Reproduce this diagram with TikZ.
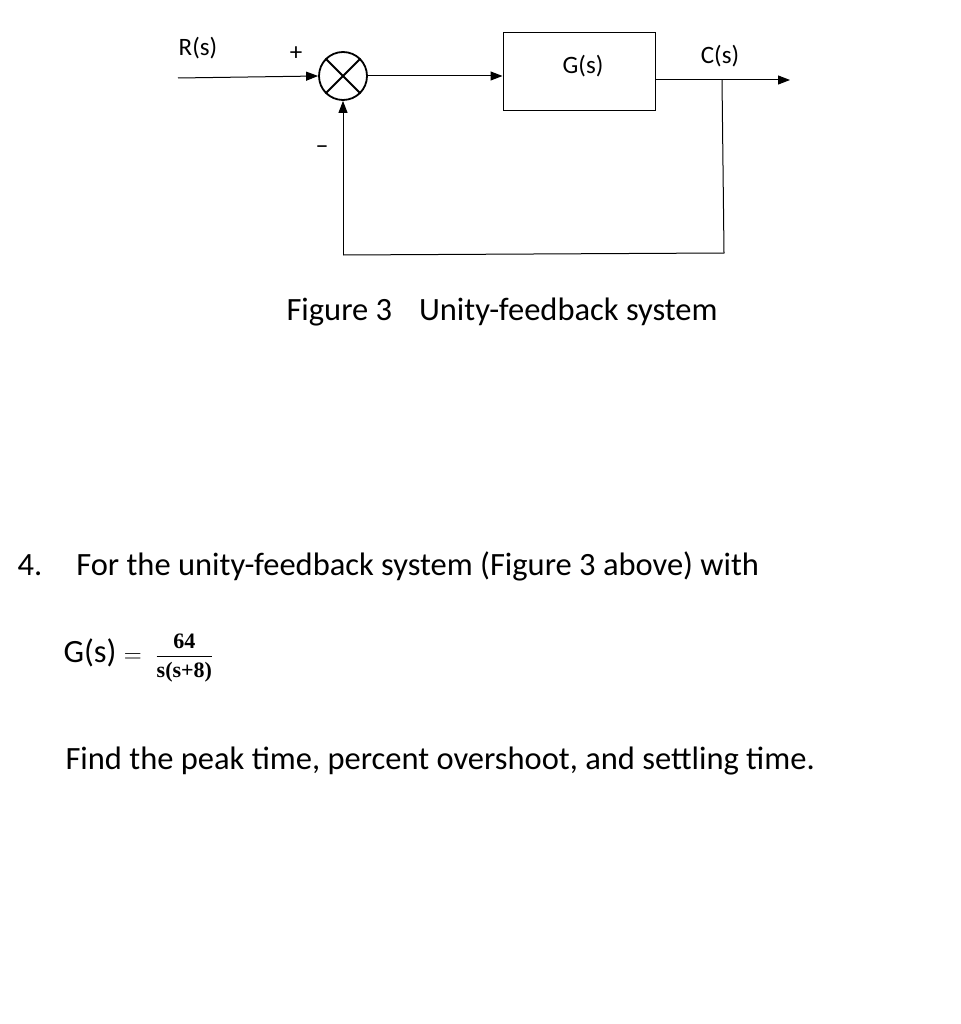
\documentclass[tikz,border=0pt]{standalone}
\usepackage{fontspec}
\setmainfont{Carlito}
\newfontfamily\serifx{Liberation Serif}
\usetikzlibrary{arrows.meta}
\begin{document}
\begin{tikzpicture}[x=1pt,y=-1pt,
  ln/.style={line width=1pt},
  ar/.style={ln,-{Triangle[length=12pt,width=9pt]}},
  lab/.style={font=\fontsize{25}{28}\selectfont},
  txt/.style={font=\fontsize{32.5}{36}\selectfont,anchor=west}]
\useasboundingbox[fill=white] (0,0) rectangle (960,1024);
\node[circle,draw,line width=1.8pt,minimum size=48pt,inner sep=0] (sum) at (343,76) {};
\draw[line width=1.8pt] (sum.north west) -- (sum.south east) (sum.north east) -- (sum.south west);
\coordinate (r) at (178,78);
\node[draw,ln,minimum width=152pt,minimum height=78pt,inner sep=0] (g) at (579,72) {};
\node[lab] (gl) at (583,66) {G(s)};
\node[lab] (rl) at (198,48) {R(s)};
\node[lab] (cl) at (720,56) {C(s)};
\node[lab] (pl) at (296,54) {+};
\node[lab] (ml) at (322,150) {\textminus};
\coordinate (out) at (790,80);
\coordinate (tap) at (722,80);
\coordinate (b1) at (724,253);
\coordinate (b2) at (343,255);
\draw[ar] (r) -- (sum.west);
\draw[ar] (sum.east) -- (g.west |- sum.east);
\draw[ar] (g.east |- out) -- (out);
\draw[ln] (tap) -- (b1) -- (b2);
\draw[ar] (b2) -- (sum.south);
\node[txt] (cap) at (283,312) {Figure 3\hspace{0.6em} Unity-feedback system};
\node[txt] (q) at (14,566) {4.\hspace{1.05em}For the unity-feedback system (Figure 3 above) with};
\node[txt] (gs) at (60,658) {G(s) $=\;\frac{\hbox{\serifx\bfseries\fontsize{22}{26}\selectfont\rule[-7pt]{0pt}{0pt}64}}{\hbox{\serifx\bfseries\fontsize{22}{26}\selectfont\rule{0pt}{20pt}s(s+8)}}$};
\node[txt] (f) at (62,761) {Find the peak time, percent overshoot, and settling time.};
\end{tikzpicture}
\end{document}
